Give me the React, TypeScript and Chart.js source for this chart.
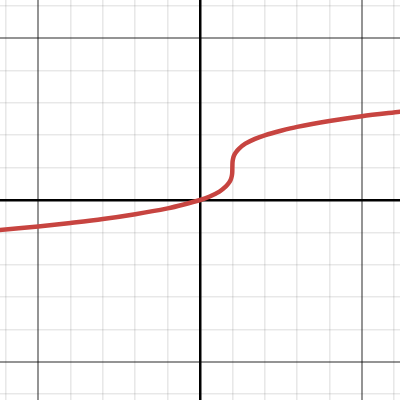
import React from "react";
import { Chart, ChartConfiguration, registerables } from "chart.js";

Chart.register(...registerables);

// points (graph units)
const curveX = [
  -6.2, -5, -4, -3, -2, -1, -0.5, 0, 0.3, 0.6, 0.8, 0.9, 0.95, 0.98, 0.995, 1,
  1.005, 1.02, 1.05, 1.1, 1.2, 1.4, 1.7, 2, 2.5, 3, 4, 5, 6.2,
];
const curveY = [
  -0.93, -0.82, -0.71, -0.59, -0.44, -0.26, -0.14, 0, 0.11, 0.26, 0.42, 0.54,
  0.63, 0.73, 0.83, 1, 1.17, 1.27, 1.37, 1.46, 1.58, 1.74, 1.89, 2, 2.14, 2.26,
  2.44, 2.59, 2.73,
];

const axisMin = -6.18;
const axisMax = 6.18;
const majorEvery = 5;

const gridColor = (v: number) =>
  v === 0 ? "#000000" : v % majorEvery === 0 ? "rgba(0,0,0,0.42)" : "rgba(0,0,0,0.09)";
const gridWidth = (v: number) => (v === 0 ? 2.5 : v % majorEvery === 0 ? 2 : 1.6);

const App: React.FC = () => {
  const canvasRef = React.useRef<HTMLCanvasElement | null>(null);
  const chartRef = React.useRef<Chart<"scatter"> | null>(null);

  React.useEffect(() => {
    const canvas = canvasRef.current;
    if (!canvas) return;
    chartRef.current?.destroy();

    const scale = {
      type: "linear" as const,
      min: axisMin,
      max: axisMax,
      border: { display: false },
      ticks: { display: false, stepSize: 1, includeBounds: false },
      grid: {
        drawTicks: false,
        color: (ctx: any) => gridColor(ctx.tick?.value ?? 1),
        lineWidth: (ctx: any) => gridWidth(ctx.tick?.value ?? 1),
      },
    };

    const config: ChartConfiguration<"scatter"> = {
      type: "scatter",
      data: {
        datasets: [
          {
            data: curveX.map((x, i) => ({ x, y: curveY[i] })),
            showLine: true,
            borderColor: "#c74440",
            borderWidth: 4.5,
            pointRadius: 0,
            tension: 0.3,
            borderCapStyle: "round",
            borderJoinStyle: "round",
          },
        ],
      },
      options: {
        animation: false,
        responsive: true,
        maintainAspectRatio: false,
        layout: { padding: 0 },
        plugins: { legend: { display: false }, tooltip: { enabled: false } },
        scales: { x: scale, y: scale },
      },
    };

    chartRef.current = new Chart(canvas, config);
    return () => {
      chartRef.current?.destroy();
    };
  }, []);

  return (
    <div
      style={{
        position: "fixed",
        left: 0,
        top: 0,
        width: 400,
        height: 400,
        background: "#ffffff",
      }}
    >
      <canvas ref={canvasRef} />
    </div>
  );
};

export default App;
